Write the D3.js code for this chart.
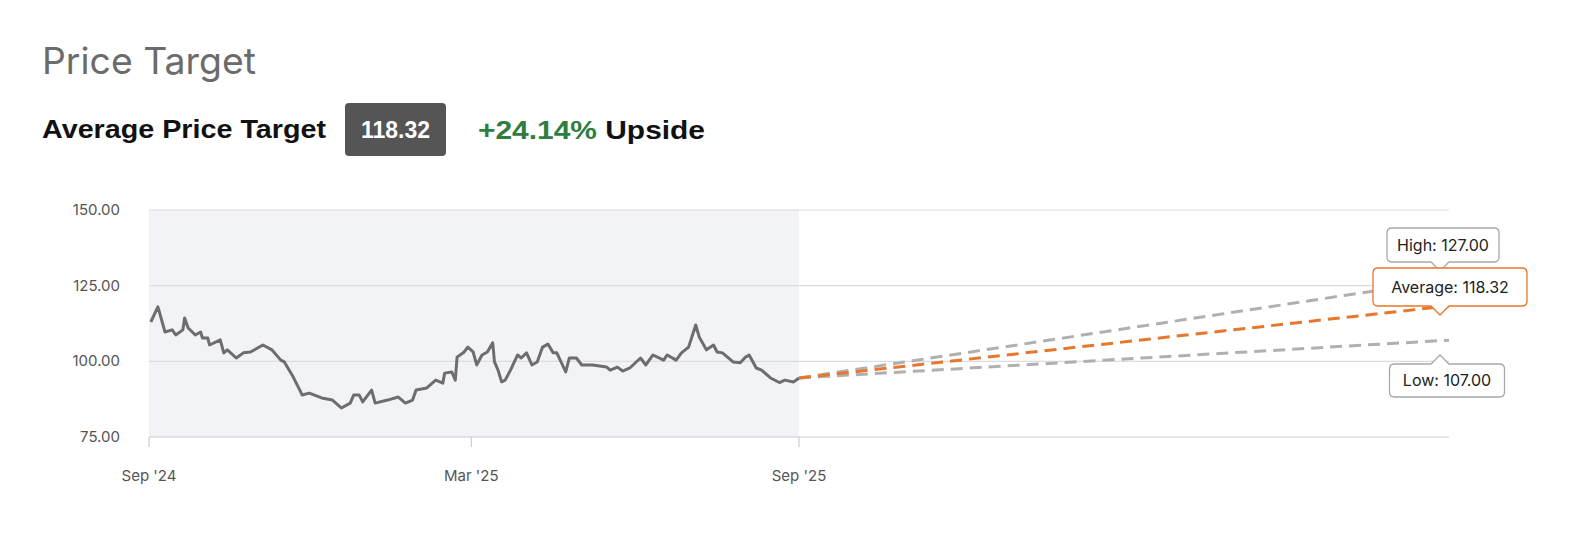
<!DOCTYPE html>
<html><head><meta charset="utf-8">
<script src="https://cdn.jsdelivr.net/npm/d3@7"></script>
<style>body{margin:0;background:#fff;font-family:"Helvetica Neue",Inter,"Liberation Sans",Arial,sans-serif;}</style>
</head><body><svg id="c" width="1592" height="552"></svg>
<script>
const startDate = "2024-09-01";
const dayOffsets = [1,5,9,13,15,19,20,22,26,29,30,33,34,40,42,44,49,53,57,64,69,74,76,81,86,90,97,103,108,113,115,118,120,125,127,134,140,144,148,150,156,161,165,166,170,172,173,177,179,182,184,187,190,193,194,196,198,200,203,207,209,212,215,218,221,224,227,229,234,236,240,243,249,257,259,263,266,270,276,279,283,289,291,296,299,303,307,309,313,317,319,322,328,332,335,337,341,344,349,354,357,362,365];
const prices = [113.0,118.0,109.7,110.4,108.7,110.4,114.3,111.0,108.7,109.7,107.7,107.7,105.4,107.1,102.8,103.8,101.1,102.8,103.1,105.4,103.8,100.4,99.8,94.8,88.9,89.5,87.9,87.2,84.6,86.2,88.9,88.9,86.6,90.5,86.2,87.2,88.2,86.2,87.2,90.5,91.2,93.8,92.8,96.1,96.5,93.8,101.4,103.1,104.7,103.1,98.8,102.1,103.1,106.1,99.8,97.1,93.2,93.8,97.1,102.1,101.1,102.8,98.8,99.8,104.7,105.7,102.8,102.8,96.5,101.1,101.1,98.8,98.8,98.1,97.1,98.1,96.8,97.8,101.1,98.8,102.1,100.4,102.1,100.4,102.8,104.7,112.0,108.0,103.8,105.4,103.1,102.8,99.8,99.5,101.4,102.1,97.8,97.1,94.5,93.0,93.8,93.2,94.5];
const targetNames = ["High","Average","Low"];
const targetValues = [127.00,118.32,107.00];
const yTicks = [75,100,125,150];
const xTickDates = ["2024-09-01","2025-03-01","2025-09-01"];
const xTickLabels = ["Sep '24","Mar '25","Sep '25"];
const endDate = "2026-09-01";

const svg = d3.select("#c");
const parse = d3.utcParse("%Y-%m-%d");
const t0 = parse(startDate);
const data = dayOffsets.map((d,i)=>({date:d3.utcDay.offset(t0,d), v:prices[i]}));
const x = d3.scaleUtc().domain([t0, parse(endDate)]).range([149,1449]);
const y = d3.scaleLinear().domain([75,150]).range([437,210]);

svg.append("text").attr("x",42).attr("y",74).attr("font-size",37).attr("fill","#6b6b6b")
  .attr("textLength",214).attr("lengthAdjust","spacingAndGlyphs").text("Price Target");
svg.append("text").attr("x",42).attr("y",138).attr("font-size",25).attr("font-weight","bold").attr("fill","#111")
  .attr("font-family","'Liberation Sans',Arial,sans-serif").attr("textLength",284).attr("lengthAdjust","spacingAndGlyphs").text("Average Price Target");
svg.append("rect").attr("x",345).attr("y",103).attr("width",101).attr("height",53).attr("rx",4).attr("fill","#555");
svg.append("text").attr("x",395.5).attr("y",138).attr("text-anchor","middle").attr("font-size",23).attr("font-weight","bold").attr("fill","#fff")
  .attr("font-family","'Liberation Sans',Arial,sans-serif").text(targetValues[1].toFixed(2));
const up = svg.append("text").attr("x",478).attr("y",139).attr("font-size",25).attr("font-weight","bold")
  .attr("font-family","'Liberation Sans',Arial,sans-serif").attr("textLength",227).attr("lengthAdjust","spacingAndGlyphs");
up.append("tspan").attr("fill","#2f7d3f").text("+24.14%");
up.append("tspan").attr("fill","#111").text(" Upside");

const tEnd = parse(xTickDates[2]);
svg.append("rect").attr("x",x(t0)).attr("y",y(150)).attr("width",x(tEnd)-x(t0)).attr("height",y(75)-y(150)).attr("fill","#f2f3f6");

svg.selectAll(".g").data(yTicks).join("line").attr("x1",149).attr("x2",1449)
  .attr("y1",d=>y(d)).attr("y2",d=>y(d)).attr("stroke",d=>d===75?"#ccc":"#dcdcdc").attr("stroke-width",1.2);
svg.selectAll(".yl").data(yTicks).join("text").attr("x",120).attr("y",d=>y(d)+5).attr("text-anchor","end")
  .attr("font-size",15).attr("fill","#555").text(d=>d.toFixed(2));
xTickDates.forEach((d,i)=>{
  const xx = x(parse(d));
  svg.append("line").attr("x1",xx).attr("x2",xx).attr("y1",437).attr("y2",447).attr("stroke","#ccc").attr("stroke-width",1.2);
  svg.append("text").attr("x",xx).attr("y",481).attr("text-anchor","middle").attr("font-size",15).attr("fill","#555").text(xTickLabels[i]);
});

svg.append("path").datum(data).attr("fill","none").attr("stroke","#6d6d6d").attr("stroke-width",3).attr("stroke-linejoin","round")
  .attr("d",d3.line().x(d=>x(d.date)).y(d=>y(d.v)));

const last = data[data.length-1];
const colors = ["#b0b0b0","#e8772e","#b0b0b0"];
[0,2,1].forEach(i=>{
  svg.append("line").attr("x1",x(last.date)).attr("y1",y(last.v)).attr("x2",x(parse(endDate))).attr("y2",y(targetValues[i]))
    .attr("stroke",colors[i]).attr("stroke-width",3).attr("stroke-dasharray","12,7");
});

const lbl = [
  {i:0, w:112, cx:1443, top:228, h:34, dir:"down"},
  {i:1, w:154, cx:1450, top:268, h:38, dir:"down"},
  {i:2, w:115, cx:1447, top:364, h:33, dir:"up"}];
lbl.forEach(L=>{
  const l=L.cx-L.w/2, r=L.cx+L.w/2, t=L.top, b=L.top+L.h, rr=5, px=1440, a=9;
  let p;
  if(L.dir==="down"){
    p=`M${l+rr},${t}H${r-rr}Q${r},${t} ${r},${t+rr}V${b-rr}Q${r},${b} ${r-rr},${b}H${px+a}L${px},${b+a}L${px-a},${b}H${l+rr}Q${l},${b} ${l},${b-rr}V${t+rr}Q${l},${t} ${l+rr},${t}Z`;
  } else {
    p=`M${l+rr},${t}H${px-a}L${px},${t-a}L${px+a},${t}H${r-rr}Q${r},${t} ${r},${t+rr}V${b-rr}Q${r},${b} ${r-rr},${b}H${l+rr}Q${l},${b} ${l},${b-rr}V${t+rr}Q${l},${t} ${l+rr},${t}Z`;
  }
  svg.append("path").attr("d",p).attr("fill","#fff").attr("stroke",L.i===1?colors[1]:"#a8a8a8").attr("stroke-width",1.3);
  svg.append("text").attr("x",L.cx).attr("y",t+L.h/2+5.5).attr("text-anchor","middle").attr("font-size",16).attr("fill","#222")
    .text(`${targetNames[L.i]}: ${targetValues[L.i].toFixed(2)}`);
});
</script></body></html>
